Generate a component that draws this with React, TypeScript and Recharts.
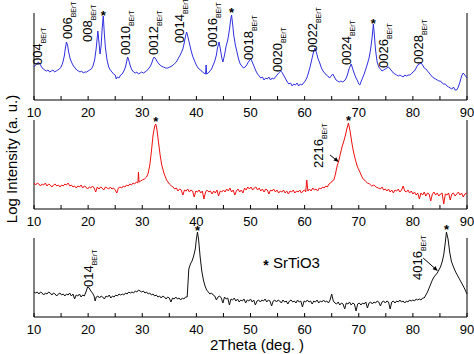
import React from 'react';
import { LineChart, Line, XAxis, YAxis, ReferenceLine, ReferenceDot } from 'recharts';

// XRD scans, [2theta, log intensity] (arbitrary units)
const topScan: number[][] = [
  [10,33],[10.3,35],[10.6,37],[10.8,38],[11.1,36],[11.4,33],[11.7,31],[12,30],[12.3,29],[12.6,30],[12.9,28],[13.2,29],[13.5,30],[13.8,28],[14.1,29],[14.4,30],[14.7,31],[15,33],[15.3,37],[15.6,44],[15.8,52],[16.0,58],[16.2,55],[16.4,48],[16.7,41],[17,37],[17.3,34],[17.6,32],[17.9,30],[18.2,29],[18.5,28],[18.8,29],[19.1,27],[19.4,28],[19.7,28],[20,29],[20.3,30],[20.6,31],[20.9,34],[21.2,40],[21.5,52],[21.8,69],[22.0,58],[22.2,46],[22.4,54],[22.6,72],[22.8,84],[23.0,66],[23.2,52],[23.5,40],[23.8,33],[24.1,30],[24.4,28],[24.7,26],[25,25],[25.2,21],[25.4,23],[25.7,22],[26,25],[26.3,26],[26.6,29],[26.9,33],[27.1,38],[27.3,43],[27.5,40],[27.8,34],[28.1,30],[28.4,28],[28.7,27],[29,28],[29.3,26],[29.6,27],[29.9,28],[30.2,27],[30.5,28],[30.8,29],[31.1,31],[31.4,33],[31.7,36],[32.0,41],[32.2,43],[32.5,41],[32.8,38],[33.1,36],[33.5,34],[33.9,33],[34.3,32],[34.7,32],[35.1,33],[35.5,34],[35.9,36],[36.3,38],[36.7,42],[37.1,46],[37.5,51],[37.8,58],[38.0,64],[38.2,68],[38.4,64],[38.7,57],[39,50],[39.3,44],[39.6,40],[39.9,36],[40.2,33],[40.5,31],[40.8,30],[41.1,28],[41.4,27],[41.7,26],[41.8,35],[41.9,26],[42.2,27],[42.5,29],[42.8,31],[43.1,35],[43.4,39],[43.7,45],[43.9,52],[44.2,58],[44.4,52],[44.7,42],[44.9,38],[45.2,45],[45.5,54],[45.8,60],[46.1,70],[46.3,79],[46.5,85],[46.7,76],[46.9,65],[47.2,55],[47.5,48],[47.8,41],[48.1,36],[48.4,34],[48.7,32],[49,33],[49.3,35],[49.6,38],[49.9,40],[50.1,41],[50.4,37],[50.7,33],[51,29],[51.3,26],[51.6,24],[51.9,22],[52.2,23],[52.5,20],[52.8,22],[53.1,21],[53.4,23],[53.7,20],[54,22],[54.3,21],[54.6,23],[54.9,25],[55.2,27],[55.6,29],[55.9,27],[56.2,24],[56.5,21],[56.8,18],[57.1,16],[57.4,17],[57.7,14],[58,16],[58.3,15],[58.6,17],[58.9,14],[59.2,16],[59.5,15],[59.8,17],[60.1,19],[60.4,22],[60.7,27],[61.0,33],[61.3,40],[61.6,47],[61.9,52],[62.2,47],[62.5,41],[62.8,37],[63.1,32],[63.4,29],[63.7,27],[64,25],[64.3,24],[64.6,22],[64.9,24],[65.2,26],[65.5,23],[65.8,20],[66.1,19],[66.4,18],[66.7,19],[67,18],[67.3,19],[67.6,21],[67.9,25],[68.2,31],[68.6,36],[68.9,31],[69.2,26],[69.5,22],[69.8,19],[70.0,16],[70.2,15],[70.4,18],[70.7,22],[71,26],[71.3,31],[71.6,36],[71.9,42],[72.2,51],[72.5,64],[72.7,76],[72.9,64],[73.1,50],[73.4,38],[73.7,33],[74,31],[74.3,29],[74.6,30],[74.9,31],[75.2,32],[75.5,33],[75.8,31],[76.1,29],[76.4,27],[76.7,26],[77,25],[77.3,24],[77.6,25],[77.9,24],[78.2,23],[78.5,25],[78.8,24],[79.1,25],[79.4,25],[79.7,26],[80,28],[80.3,29],[80.6,32],[80.9,35],[81.2,36],[81.5,37],[81.8,35],[82.1,32],[82.4,31],[82.7,29],[83,27],[83.3,25],[83.6,23],[83.9,22],[84.2,21],[84.5,20],[84.8,19],[85.1,19],[85.4,17],[85.7,16],[86,16],[86.3,14],[86.6,13],[86.9,12],[87.2,11],[87.5,13],[87.8,10],[88.1,10],[88.4,13],[88.7,18],[89,24],[89.3,27],[89.6,25],[90,22],
];

const midScan: number[][] = [
  [10,26],[10.3,24],[10.6,26],[10.9,25],[11.2,23],[11.5,25],[11.8,24],[12.1,26],[12.4,23],[12.7,25],[13,24],[13.3,22],[13.6,24],[13.9,25],[14.2,23],[14.5,24],[14.8,22],[15.1,24],[15.4,23],[15.7,25],[16,24],[16.3,26],[16.6,23],[16.9,24],[17.2,22],[17.5,23],[17.8,21],[18.1,23],[18.4,22],[18.7,24],[19,21],[19.3,23],[19.6,22],[19.9,20],[20.2,22],[20.5,21],[20.8,23],[21.1,21],[21.4,17],[21.7,22],[22,20],[22.3,22],[22.6,21],[22.9,19],[23.2,22],[23.5,21],[23.8,20],[24.1,22],[24.4,20],[24.7,21],[25,19],[25.3,16],[25.6,21],[25.9,22],[26.2,21],[26.5,23],[26.8,22],[27.1,24],[27.4,23],[27.7,25],[28,24],[28.3,26],[28.6,25],[28.9,27],[29.2,26],[29.3,37],[29.4,27],[29.7,28],[30,29],[30.4,30],[30.8,32],[31.1,36],[31.4,44],[31.7,58],[32.0,74],[32.3,83],[32.5,85],[32.7,80],[33.0,67],[33.3,54],[33.6,44],[34.0,36],[34.5,29],[35.0,25],[35.4,23],[35.7,22],[36,20],[36.3,21],[36.6,18],[36.9,20],[37.2,19],[37.5,14],[37.8,19],[38.1,18],[38.4,20],[38.7,17],[39,19],[39.3,18],[39.6,12],[39.9,18],[40.2,17],[40.5,19],[40.8,16],[41.1,18],[41.4,10],[41.7,17],[42,19],[42.3,17],[42.6,18],[42.9,15],[43.2,18],[43.5,16],[43.8,19],[44.1,13],[44.4,18],[44.7,17],[45,19],[45.3,17],[45.6,20],[45.9,18],[46.2,21],[46.5,17],[46.8,19],[47.1,14],[47.4,18],[47.7,20],[48,17],[48.3,19],[48.6,16],[48.9,21],[49.2,19],[49.5,22],[49.8,20],[50.1,22],[50.4,19],[50.7,21],[51,22],[51.3,19],[51.6,21],[51.9,18],[52.2,20],[52.5,17],[52.8,20],[53.1,19],[53.4,15],[53.7,19],[54,18],[54.3,20],[54.6,17],[54.9,19],[55.2,16],[55.5,18],[55.8,17],[56.1,19],[56.4,16],[56.7,18],[57,15],[57.3,18],[57.6,17],[57.9,19],[58.2,16],[58.5,18],[58.8,17],[59.1,19],[59.4,16],[59.7,18],[60,19],[60.2,17],[60.4,29],[60.6,18],[60.9,20],[61.2,18],[61.5,21],[61.8,19],[62.1,20],[62.4,18],[62.7,21],[63,20],[63.3,22],[63.6,21],[63.9,23],[64.2,22],[64.5,25],[64.8,26],[65.1,28],[65.4,29],[65.7,35],[66.0,43],[66.3,48],[66.6,55],[66.9,62],[67.2,67],[67.5,73],[67.8,80],[68.1,86],[68.4,78],[68.7,67],[69.0,58],[69.3,51],[69.7,43],[70.2,37],[70.7,31],[71.2,28],[71.6,26],[72,25],[72.4,23],[72.8,24],[73.2,22],[73.6,21],[74,20],[74.3,22],[74.6,19],[74.9,20],[75.2,18],[75.5,20],[75.8,17],[76.1,19],[76.4,16],[76.7,19],[77,18],[77.3,20],[77.6,17],[77.9,19],[78.2,23],[78.5,18],[78.8,17],[79.1,19],[79.4,16],[79.7,18],[80,15],[80.3,17],[80.6,14],[80.9,16],[81.2,10],[81.5,16],[81.8,14],[82.1,17],[82.4,13],[82.7,16],[83,15],[83.3,8],[83.6,15],[83.9,17],[84.2,14],[84.5,16],[84.8,13],[85.1,15],[85.4,16],[85.7,5],[86,15],[86.3,14],[86.6,16],[86.9,9],[87.2,15],[87.5,16],[87.8,13],[88.1,15],[88.4,17],[88.7,14],[89,16],[89.3,12],[89.6,15],[90,16],
];

const lowScan: number[][] = [
  [10,25],[10.3,24],[10.6,25],[10.9,23],[11.2,25],[11.5,24],[11.8,22],[12.1,24],[12.4,23],[12.7,25],[13,24],[13.3,22],[13.6,24],[13.9,23],[14.2,21],[14.5,23],[14.8,24],[15.1,22],[15.4,23],[15.7,21],[16,23],[16.3,22],[16.6,24],[16.9,21],[17.2,23],[17.5,18],[17.8,22],[18.1,21],[18.4,23],[18.7,20],[19,22],[19.3,21],[19.6,25],[19.9,30],[20.2,29],[20.5,26],[20.8,24],[21.1,21],[21.3,16],[21.5,20],[21.8,21],[22.1,19],[22.4,21],[22.7,20],[23,18],[23.3,21],[23.6,20],[23.9,22],[24.2,19],[24.5,21],[24.8,20],[25.1,22],[25.4,21],[25.7,23],[26,22],[26.3,23],[26.6,22],[26.9,24],[27.2,23],[27.5,25],[27.8,24],[28.1,25],[28.4,24],[28.7,26],[29,25],[29.3,27],[29.6,26],[29.9,25],[30.2,26],[30.5,24],[30.8,25],[31.1,23],[31.4,24],[31.7,22],[32,23],[32.3,21],[32.6,22],[32.9,20],[33.2,21],[33.5,19],[33.8,21],[34.1,20],[34.4,18],[34.7,20],[35,19],[35.3,15],[35.6,19],[35.9,18],[36.2,20],[36.5,18],[36.8,19],[37.1,17],[37.4,19],[37.7,18],[38,20],[38.3,20],[38.6,48],[38.9,53],[39.2,56],[39.5,61],[39.8,68],[40.0,78],[40.2,85],[40.4,78],[40.7,60],[41.0,46],[41.3,37],[41.6,31],[41.9,27],[42.2,25],[42.5,23],[42.8,24],[43.1,22],[43.4,21],[43.7,17],[44,20],[44.3,21],[44.6,19],[44.9,14],[45.2,20],[45.5,18],[45.8,19],[46.1,12],[46.4,18],[46.7,17],[47,19],[47.3,16],[47.6,18],[47.9,15],[48.2,17],[48.5,16],[48.8,18],[49.1,14],[49.4,17],[49.7,16],[50,18],[50.3,15],[50.6,17],[50.9,12],[51.2,16],[51.5,17],[51.8,15],[52.1,17],[52.4,16],[52.7,18],[53,15],[53.3,17],[53.6,16],[53.9,11],[54.2,16],[54.5,17],[54.8,15],[55.1,17],[55.4,16],[55.7,14],[56,17],[56.3,15],[56.6,16],[56.9,13],[57.2,16],[57.5,17],[57.8,15],[58.1,16],[58.4,14],[58.7,17],[59,15],[59.3,16],[59.6,10],[59.9,16],[60.2,15],[60.5,17],[60.8,15],[61.1,16],[61.4,13],[61.7,16],[62,15],[62.3,17],[62.6,14],[62.9,16],[63.2,15],[63.5,17],[63.8,15],[64.1,16],[64.4,14],[64.7,17],[65,23],[65.3,16],[65.6,14],[65.9,13],[66.2,15],[66.5,12],[66.8,14],[67.1,13],[67.4,8],[67.7,14],[68,13],[68.3,15],[68.6,12],[68.9,14],[69.2,13],[69.5,6],[69.8,13],[70.1,14],[70.4,12],[70.7,14],[71,13],[71.3,15],[71.6,9],[71.9,14],[72.2,15],[72.5,13],[72.8,15],[73.1,14],[73.4,16],[73.7,15],[74,11],[74.3,15],[74.6,16],[74.9,14],[75.2,16],[75.5,15],[75.8,8],[76.1,15],[76.4,16],[76.7,14],[77,16],[77.3,15],[77.6,17],[77.9,15],[78.2,16],[78.5,14],[78.8,16],[79.1,15],[79.4,17],[79.7,16],[80,17],[80.3,16],[80.6,18],[80.9,17],[81.2,18],[81.5,17],[81.8,19],[82.1,19],[82.4,22],[82.7,25],[83.0,29],[83.3,33],[83.6,37],[83.9,40],[84.2,42],[84.5,44],[84.8,47],[85.1,50],[85.4,55],[85.7,62],[86.0,75],[86.2,85],[86.5,78],[86.8,65],[87.1,56],[87.5,50],[87.9,45],[88.3,41],[88.7,37],[89.1,33],[89.5,29],[90,23],
];

const TICKS = [10, 15, 20, 25, 30, 35, 40, 45, 50, 55, 60, 65, 70, 75, 80, 85, 90];

// peak labels: 2theta, intensity where the rotated label starts, index
const topPeaks = [
  { t: 10.7, at: 35, hkl: '004' }, { t: 16.1, at: 61, hkl: '006' }, { t: 19.9, at: 58, hkl: '008' },
  { t: 26.9, at: 45, hkl: '0010' }, { t: 32.0, at: 45, hkl: '0012' }, { t: 36.8, at: 57, hkl: '0014' },
  { t: 42.9, at: 53, hkl: '0016' }, { t: 49.6, at: 40, hkl: '0018' }, { t: 54.9, at: 28, hkl: '0020' },
  { t: 61.4, at: 48, hkl: '0022' }, { t: 67.8, at: 35, hkl: '0024' }, { t: 74.5, at: 32, hkl: '0026' },
  { t: 81.0, at: 36, hkl: '0028' },
];
const midPeaks = [{ t: 62.5, at: 41, hkl: '2216' }];
const lowPeaks = [{ t: 20.0, at: 30, hkl: '014' }, { t: 80.8, at: 37, hkl: '4016' }];

// SrTiO3 substrate reflections
const topStars = [[22.8, 87], [46.5, 90], [72.7, 79]];
const midStars = [[32.5, 90], [68.1, 91]];
const lowStars = [[40.2, 89], [86.2, 90]];

const midArrows = [[64.7, 54, 66.3, 47]];
const lowArrows = [[81.9, 59, 84.6, 46]];

const FONT = '"Liberation Sans", Arial, Helvetica, sans-serif';

const XTick = (p: any) => {
  const v = p.payload.value;
  if (v % 10 !== 0) return null;
  return (
    <text x={p.x} y={p.y + 16.5} textAnchor="middle" fontSize={13} fontFamily={FONT} fill="#000">
      {v}
    </text>
  );
};

const hklTag = (hkl: string) => (p: any) => (
  <text transform={`translate(${p.cx + 4.5},${p.cy}) rotate(-90)`} fontSize={13} fontFamily={FONT} fill="#000">
    {hkl}
    <tspan fontSize={7} dy={4}>BErT</tspan>
  </text>
);

const starMark = (p: any) => (
  <text x={p.cx} y={p.cy + 7} textAnchor="middle" fontSize={13} fontWeight="bold" fontFamily={FONT} fill="#000">*</text>
);

const arrowShape = (p: any) => {
  const { x1, y1, x2, y2 } = p;
  const a = Math.atan2(y2 - y1, x2 - x1);
  const L = 5, W = 2.2;
  const bx = x2 - L * Math.cos(a), by = y2 - L * Math.sin(a);
  const pts = `${x2},${y2} ${bx - W * Math.sin(a)},${by + W * Math.cos(a)} ${bx + W * Math.sin(a)},${by - W * Math.cos(a)}`;
  return (
    <g>
      <line x1={x1} y1={y1} x2={bx} y2={by} stroke="#000" strokeWidth={1} />
      <polygon points={pts} fill="#000" />
    </g>
  );
};

interface PanelProps {
  scan: number[][];
  color: string;
  top: number;
  height: number;
  yMax: number;
  frameTop: number;
  peaks: { t: number; at: number; hkl: string }[];
  stars: number[][];
  arrows?: number[][];
}

function Panel({ scan, color, top, height, yMax, frameTop, peaks, stars, arrows = [] }: PanelProps) {
  const data = scan.map(([t, v]) => ({ t, v }));
  return (
    <div style={{ position: 'absolute', left: 0, top }}>
      <LineChart width={474} height={height} data={data} margin={{ top: 13, right: 7, bottom: 0, left: 34 }}>
        <XAxis dataKey="t" type="number" domain={[10, 90]} ticks={TICKS} interval={0}
          tickSize={-4} tickMargin={4} height={20} tick={XTick}
          axisLine={{ stroke: '#000' }} tickLine={{ stroke: '#000' }} />
        <YAxis type="number" domain={[0, yMax]} hide />
        <ReferenceLine segment={[{ x: 10, y: 0 }, { x: 10, y: frameTop }]} stroke="#000" ifOverflow="visible" />
        <ReferenceLine segment={[{ x: 90, y: 0 }, { x: 90, y: frameTop }]} stroke="#000" ifOverflow="visible" />
        <Line type="linear" dataKey="v" stroke={color} strokeWidth={1} dot={false} isAnimationActive={false} />
        {peaks.map(pk => (
          <ReferenceDot key={pk.hkl} x={pk.t} y={pk.at} r={0} ifOverflow="visible" shape={hklTag(pk.hkl)} />
        ))}
        {stars.map(([t, v]) => (
          <ReferenceDot key={'s' + t} x={t} y={v} r={0} ifOverflow="visible" shape={starMark} />
        ))}
        {arrows.map(([xa, ya, xb, yb]) => (
          <ReferenceLine key={'a' + xa} segment={[{ x: xa, y: ya }, { x: xb, y: yb }]} ifOverflow="visible" shape={arrowShape} />
        ))}
      </LineChart>
    </div>
  );
}

export default function App() {
  return (
    <div style={{ position: 'absolute', left: 0, top: 0, width: 474, height: 354, background: '#fff', overflow: 'hidden' }}>
      <Panel scan={topScan} color="#2f2fe0" top={0} height={120} yMax={87} frameTop={87} peaks={topPeaks} stars={topStars} />
      <Panel scan={midScan} color="#f01010" top={107} height={122} yMax={89} frameTop={89} peaks={midPeaks} stars={midStars} arrows={midArrows} />
      <Panel scan={lowScan} color="#111" top={219} height={118} yMax={85} frameTop={79} peaks={lowPeaks} stars={lowStars} arrows={lowArrows} />
      <svg width={474} height={354} style={{ position: 'absolute', left: 0, top: 0, pointerEvents: 'none' }}>
        <text transform="translate(17,159) rotate(-90)" textAnchor="middle" fontSize={15} fontFamily={FONT} fill="#000">
          Log Intensity (a. u.)
        </text>
        <text x={257} y={350} textAnchor="middle" fontSize={15} fontFamily={FONT} fill="#000">2Theta (deg. )</text>
        <text x={266} y={270} textAnchor="middle" fontSize={14} fontWeight="bold" fontFamily={FONT} fill="#000">*</text>
        <text x={273} y={268} fontSize={15} fontFamily={FONT} fill="#000">SrTiO3</text>
      </svg>
    </div>
  );
}
